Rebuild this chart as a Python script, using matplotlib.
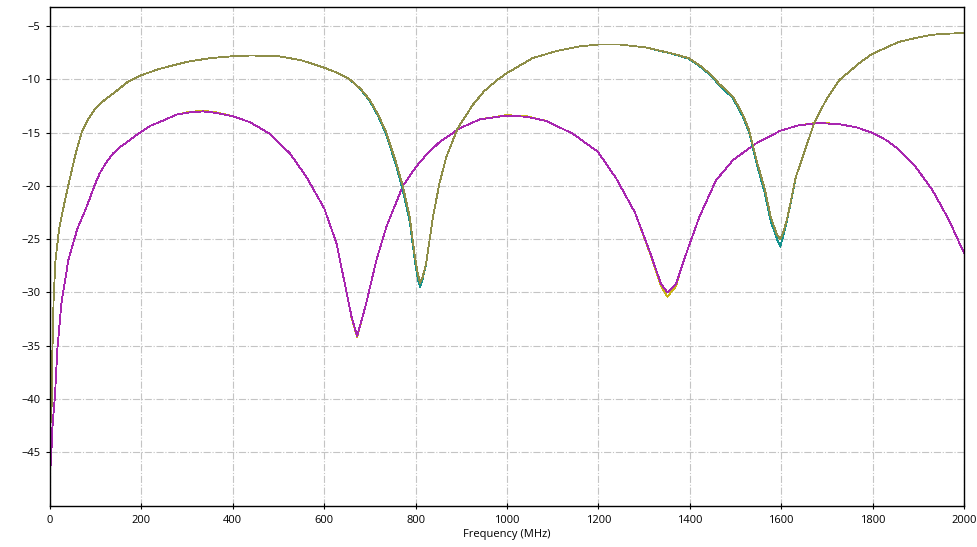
import matplotlib
matplotlib.use("Agg")
import matplotlib.pyplot as plt

# Curve A (olive) and its near twin (teal)
freq_a = [3, 5, 8, 12, 20, 33, 44, 56, 69, 84, 100, 120, 142, 171, 200, 240, 300, 350,
          400, 440, 500, 550, 600, 630, 656, 680, 700, 718, 736, 758, 772, 787, 798,
          805, 810, 815, 823, 838, 852, 867, 892, 925, 950, 980, 1000, 1056, 1107,
          1158, 1200, 1246, 1304, 1362, 1397, 1421, 1445, 1464, 1494, 1515, 1530,
          1548, 1563, 1577, 1590, 1598, 1605, 1614, 1632, 1647, 1672, 1698, 1727,
          1770, 1797, 1830, 1858, 1895, 1931, 1965, 2000]
olive_db = [-42.2, -36.0, -30.5, -27.0, -24.0, -21.3, -19.2, -17.0, -15.0, -13.7, -12.7,
            -11.9, -11.2, -10.2, -9.6, -9.0, -8.35, -8.0, -7.82, -7.75, -7.82, -8.2,
            -8.9, -9.4, -10.0, -10.9, -11.95, -13.3, -15.0, -17.9, -20.0, -22.9, -26.5,
            -28.3, -29.1, -28.6, -27.3, -22.9, -19.8, -17.3, -14.6, -12.4, -11.1,
            -10.0, -9.4, -8.0, -7.35, -6.9, -6.72, -6.72, -7.0, -7.57, -8.0, -8.66,
            -9.5, -10.4, -11.6, -13.2, -14.8, -17.9, -20.1, -22.9, -24.5, -25.0, -24.3,
            -22.9, -19.15, -17.3, -14.1, -11.95, -10.07, -8.5, -7.66, -7.0, -6.47,
            -6.1, -5.8, -5.7, -5.65]
teal_db = [-42.0, -36.0, -30.5, -27.0, -24.0, -21.3, -19.2, -17.0, -15.0, -13.7, -12.7,
           -11.9, -11.2, -10.2, -9.6, -9.0, -8.35, -8.0, -7.82, -7.75, -7.82, -8.2,
           -8.9, -9.4, -10.0, -10.95, -12.05, -13.45, -15.2, -18.2, -20.4, -23.3, -26.9,
           -28.8, -29.5, -28.8, -27.3, -22.9, -19.8, -17.3, -14.6, -12.4, -11.1,
           -10.0, -9.4, -8.0, -7.35, -6.9, -6.72, -6.72, -7.0, -7.6, -8.05, -8.75,
           -9.6, -10.5, -11.75, -13.4, -15.0, -18.2, -20.5, -23.3, -24.9, -25.7, -24.6,
           -23.0, -19.15, -17.3, -14.1, -11.95, -10.07, -8.5, -7.66, -7.0, -6.47,
           -6.1, -5.8, -5.7, -5.65]

# Curve B (magenta) and its near twin (yellow)
freq_b = [2, 5, 11, 16, 25, 40, 60, 75, 86, 97, 109, 123, 138, 152, 168, 185, 200, 219,
          240, 277, 305, 335, 365, 399, 437, 481, 525, 561, 600, 627, 648, 660, 672,
          682, 692, 714, 736, 772, 801, 825, 852, 896, 940, 998, 1042, 1086, 1144,
          1199, 1239, 1280, 1311, 1337, 1351, 1370, 1380, 1395, 1421, 1457, 1494,
          1541, 1599, 1639, 1683, 1727, 1765, 1797, 1830, 1858, 1894, 1931, 1967, 2000]
magenta_db = [-46.2, -42.8, -39.6, -35.4, -31.0, -27.0, -24.0, -22.5, -21.3, -20.0,
              -18.8, -17.8, -16.95, -16.4, -15.9, -15.35, -14.9, -14.36, -14.0, -13.3,
              -13.1, -13.0, -13.15, -13.45, -14.0, -15.1, -16.95, -19.15, -22.1, -25.4,
              -29.8, -32.3, -34.1, -32.6, -31.0, -27.0, -23.85, -20.0, -18.2, -17.0,
              -15.9, -14.6, -13.76, -13.4, -13.5, -13.9, -15.1, -16.8, -19.3, -22.5,
              -26.0, -29.2, -30.0, -29.2, -27.9, -26.0, -22.9, -19.5, -17.6, -16.1,
              -14.8, -14.3, -14.1, -14.2, -14.5, -14.98, -15.7, -16.6, -18.2, -20.4,
              -23.2, -26.3]
yellow_db = [-46.0, -42.8, -39.6, -35.4, -31.0, -27.0, -24.0, -22.5, -21.3, -20.0,
             -18.8, -17.8, -16.95, -16.4, -15.9, -15.35, -14.9, -14.36, -14.0, -13.3,
             -13.05, -12.95, -13.1, -13.45, -14.0, -15.1, -16.95, -19.15, -22.1, -25.4,
             -29.8, -32.4, -34.2, -32.6, -31.0, -27.0, -23.85, -20.0, -18.2, -17.0,
             -15.9, -14.6, -13.76, -13.35, -13.45, -13.9, -15.1, -16.8, -19.3, -22.5,
             -26.1, -29.4, -30.4, -29.4, -27.9, -26.0, -22.9, -19.5, -17.6, -16.1,
             -14.8, -14.3, -14.05, -14.2, -14.5, -14.98, -15.7, -16.6, -18.2, -20.4,
             -23.2, -26.3]

x_ticks = [0, 200, 400, 600, 800, 1000, 1200, 1400, 1600, 1800, 2000]
y_ticks = [-45, -40, -35, -30, -25, -20, -15, -10, -5]

plt.rcParams["font.family"] = ["Open Sans", "DejaVu Sans"]

fig = plt.figure(figsize=(9.78, 5.47), dpi=100)
ax = fig.add_axes([50 / 978, 41 / 547, 914 / 978, 499 / 547])

line_kw = dict(lw=0.6, antialiased=False)
ax.plot(freq_b, yellow_db, color="#c8b414", **line_kw)
ax.plot(freq_b, magenta_db, color="#a826b0", **line_kw)
ax.plot(freq_a, teal_db, color="#14928e", **line_kw)
ax.plot(freq_a, olive_db, color="#8e8e48", **line_kw)

ax.set_xlim(0, 2000)
ax.set_ylim(-50.05, -3.2)
ax.set_xticks(x_ticks)
ax.set_yticks(y_ticks)
ax.grid(True, color="#c4c4c4", linestyle="-.", linewidth=0.8)
ax.set_axisbelow(True)

for s in ax.spines.values():
    s.set_linewidth(1.0)
    s.set_color("black")

ax.tick_params(axis="x", direction="inout", length=5, width=0.8, labelsize=8, pad=4)
ax.tick_params(axis="y", direction="out", length=3, width=0.8, labelsize=8, pad=4)
ax.set_xlabel("Frequency (MHz)", fontsize=8, labelpad=2)

fig.savefig("out.png", dpi=100)
